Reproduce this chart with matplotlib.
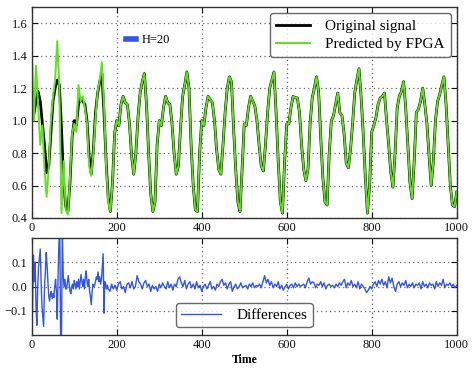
import numpy as np
import matplotlib
matplotlib.use("Agg")
import matplotlib.pyplot as plt
from matplotlib.lines import Line2D

plt.rcParams['font.family'] = ['Liberation Serif', 'DejaVu Serif']
plt.rcParams['mathtext.fontset'] = 'stix'

# ---------------- data ----------------
step_sig = 5
original = [
    1.05, 1.04, 1.12, 1.18, 1.12, 0.98, 0.85, 0.68, 0.72, 0.92,
    1.12, 1.20, 1.25, 1.22, 0.95, 0.62, 0.47, 0.44, 0.62, 0.90,
    1.00, 0.97, 1.10, 1.14, 1.12, 1.10, 1.00, 0.78, 0.67, 0.82,
    1.05, 1.17, 1.24, 1.29, 1.05, 0.75, 0.52, 0.44, 0.62, 0.92,
    1.00, 0.97, 1.10, 1.15, 1.11, 1.10, 0.98, 0.78, 0.67, 0.80,
    1.02, 1.17, 1.24, 1.29, 1.10, 0.80, 0.55, 0.44, 0.50, 0.85,
    1.00, 0.97, 1.08, 1.15, 1.11, 1.10, 0.98, 0.80, 0.67, 0.72,
    0.95, 1.15, 1.22, 1.30, 1.20, 0.85, 0.60, 0.45, 0.44, 0.80,
    1.00, 0.97, 1.08, 1.15, 1.13, 1.11, 1.00, 0.82, 0.70, 0.67,
    0.85, 1.05, 1.20, 1.27, 1.24, 0.95, 0.70, 0.50, 0.44, 0.70,
    0.98, 0.97, 1.08, 1.15, 1.12, 1.09, 1.00, 0.85, 0.72, 0.69,
    0.85, 1.05, 1.20, 1.25, 1.30, 1.05, 0.75, 0.50, 0.43, 0.75,
    0.98, 0.98, 1.08, 1.15, 1.14, 1.14, 1.05, 0.85, 0.70, 0.63,
    0.70, 0.98, 1.14, 1.20, 1.27, 1.18, 0.90, 0.65, 0.50, 0.48,
    0.80, 1.00, 1.03, 1.10, 1.17, 1.05, 1.03, 0.92, 0.74, 0.71,
    0.82, 0.98, 1.17, 1.25, 1.32, 1.15, 0.92, 0.65, 0.43, 0.60,
    0.93, 0.97, 1.02, 1.10, 1.14, 1.15, 1.17, 1.00, 0.85, 0.68,
    0.59, 0.80, 1.08, 1.15, 1.18, 1.24, 1.08, 0.85, 0.62, 0.52,
    0.75, 1.05, 1.07, 1.12, 1.20, 1.10, 0.98, 0.78, 0.60, 0.75,
    1.00, 1.12, 1.16, 1.22, 1.27, 1.10, 0.85, 0.60, 0.48, 0.47,
    0.56,
]
# predicted values where they visibly differ from the original (t = 0..180)
predicted_early = [
    1.42, 1.00, 1.34, 1.10, 0.85, 0.97, 0.70, 0.53, 0.72, 1.00,
    1.15, 1.25, 1.49, 1.20, 0.43, 0.75, 0.45, 0.42, 0.65, 0.92,
    0.98, 0.93, 1.22, 1.12, 1.15, 1.08, 0.98, 0.72, 0.66, 0.80,
    1.02, 1.18, 1.25, 1.36, 1.10, 0.73, 0.50,
]
predicted = predicted_early + original[len(predicted_early):]

step_diff_early = 2
diff_early = [
    -0.25, -0.05, 0.13, 0.02, 0.10, -0.08, -0.16, 0.00, 0.08, 0.12,
    0.155, 0.02, -0.08, -0.12, -0.165, 0.00, 0.06, 0.14, 0.09, 0.02,
    -0.04, -0.06, -0.03, -0.02, -0.05, -0.03, -0.045, 0.00, 0.03, -0.02,
    -0.135, 0.05, 0.18, 0.25, -0.25, -0.20, 0.25, 0.045, 0.00, 0.03,
    -0.01, -0.01, 0.02, 0.045, 0.01, -0.02, -0.03, 0.00, 0.01, -0.01,
    0.025, 0.01, -0.01, 0.02, 0.00, 0.03, -0.01, 0.02, 0.05, 0.02,
    0.00, 0.03, -0.01, 0.04, 0.065, 0.02, 0.00, 0.03, -0.02, -0.04,
    -0.075, -0.02, 0.01, 0.00, 0.005, 0.02, 0.04, 0.03, 0.06, 0.02,
    0.04, 0.01, 0.03, 0.08, 0.135, -0.11, 0.02, 0.01, -0.01, 0.005,
    -0.01,
]
step_diff_late = 4
diff_late_start = 184
diff_late = [
    -0.02, 0.01, -0.01, 0.005, -0.015, 0.01, 0.02, -0.01, 0.00, -0.025,
    0.01, 0.015, -0.005, 0.02, -0.01, 0.00, 0.045, 0.02, 0.01, -0.01,
    0.015, 0.025, 0.00, 0.01, -0.02, 0.005, -0.01, 0.00, -0.02, 0.01,
    -0.005, 0.015, 0.00, -0.01, 0.02, -0.005, 0.01, -0.015, 0.01, 0.00,
    0.03, 0.04, 0.015, 0.00, 0.025, -0.01, 0.01, 0.02, -0.005, 0.01,
    -0.01, 0.02, -0.005, 0.005, -0.02, 0.00, 0.01, -0.01, 0.005, 0.02,
    -0.01, 0.00, -0.015, 0.01, 0.00, 0.02, 0.03, 0.005, 0.015, -0.01,
    0.01, 0.02, -0.02, 0.00, 0.01, -0.01, 0.00, 0.015, -0.005, 0.00,
    0.005, -0.01, 0.01, 0.00, 0.015, -0.005, 0.005, 0.00, 0.01, -0.005,
    0.02, 0.045, 0.015, 0.03, 0.005, 0.02, -0.005, 0.01, 0.00, 0.02,
    -0.01, 0.005, -0.015, 0.00, 0.01, -0.01, 0.005, 0.01, -0.005, 0.015,
    0.00, 0.01, 0.00, 0.005, 0.01, -0.005, 0.02, 0.035, 0.01, 0.02,
    0.015, -0.005, 0.01, 0.005, 0.02, 0.00, 0.015, -0.01, 0.005, 0.01,
    0.00, 0.005, -0.005, 0.01, 0.00, 0.015, 0.005, 0.02, 0.03, -0.005,
    0.015, 0.005, 0.025, 0.00, 0.01, -0.005, 0.02, -0.01, 0.01, 0.00,
    -0.01, -0.025, -0.015, 0.00, -0.01, 0.01, 0.02, 0.00, 0.025, 0.01,
    0.03, 0.005, 0.02, -0.005, 0.04, 0.015, 0.035, 0.00, -0.02, 0.01,
    0.02, 0.00, 0.015, 0.005, 0.025, -0.005, 0.01, 0.00, 0.015, -0.005,
    0.01, 0.005, 0.015, -0.01, 0.02, 0.00, 0.01, -0.005, 0.015, 0.005,
    0.01, -0.01, 0.02, 0.00, 0.015, 0.005, 0.03, -0.005, 0.01, 0.005,
    0.015, 0.00, 0.01, -0.005, 0.005,
]
x_ticks = [0, 200, 400, 600, 800, 1000]
top_yticks = [0.4, 0.6, 0.8, 1.0, 1.2, 1.4, 1.6]
bot_yticks = [-0.1, 0.0, 0.1]

t_sig = np.arange(len(original)) * step_sig
t_pred = np.arange(len(predicted)) * step_sig
t_diff = np.concatenate([np.arange(len(diff_early)) * step_diff_early,
                         diff_late_start + np.arange(len(diff_late)) * step_diff_late])
diff = np.array(diff_early + diff_late)

# ---------------- figure ----------------
fig = plt.figure(figsize=(4.74, 3.72), dpi=100)
ax1 = fig.add_axes([0.067, 0.414, 0.8965, 0.567])
ax2 = fig.add_axes([0.067, 0.0995, 0.8965, 0.2605])

BLACK = '#000000'
GREEN = '#5ee21c'
BLUE = '#3355e6'

ax1.plot(t_sig, original, color=BLACK, lw=2.0, label='Original signal')
ax1.plot(t_pred, predicted, color=GREEN, lw=1.4, label='Predicted by FPGA')
ax1.set_xlim(0, 1000)
ax1.set_ylim(0.4, 1.7)
ax1.set_yticks(top_yticks)
ax1.set_xticks(x_ticks)

ax2.plot(t_diff, diff, color=BLUE, lw=1.0, label='Differences')
ax2.set_xlim(0, 1000)
ax2.set_ylim(-0.2, 0.2)
ax2.set_yticks(bot_yticks)
ax2.set_xticks(x_ticks)
ax2.set_yticklabels(['\u22120.1', '0.0', '0.1'])
ax2.set_xlabel('Time', fontsize=8.5, fontweight='bold', labelpad=2)

for ax in (ax1, ax2):
    ax.grid(True, linestyle=(0, (1, 2.5)), color='#666666', lw=0.9)
    ax.tick_params(direction='in', top=True, right=True, labelsize=9,
                   length=4, width=0.8, pad=3, colors='#111111')
    for s in ax.spines.values():
        s.set_color('#333333')
        s.set_linewidth(1.0)

leg1 = ax1.legend(loc='upper right', fontsize=11, frameon=True, fancybox=True,
                  borderaxespad=0.4, handlelength=2.2, borderpad=0.4,
                  labelspacing=0.3, handletextpad=1.0)
leg1.get_frame().set_edgecolor('#444444')
leg1.get_frame().set_linewidth(1.0)
ax1.add_artist(leg1)
h20 = ax1.legend([Line2D([], [], color=BLUE, lw=4)], ['H=20'], loc='upper left',
                 bbox_to_anchor=(0.195, 0.925), frameon=False, fontsize=9,
                 handlelength=0.8, handletextpad=0.5)

leg2 = ax2.legend(loc='lower center', fontsize=11, frameon=True, fancybox=True,
                  borderaxespad=0.5, handlelength=2.6, borderpad=0.35,
                  handletextpad=1.0)
leg2.get_frame().set_edgecolor('#444444')
leg2.get_frame().set_linewidth(1.0)

fig.savefig('out.png', dpi=100)
